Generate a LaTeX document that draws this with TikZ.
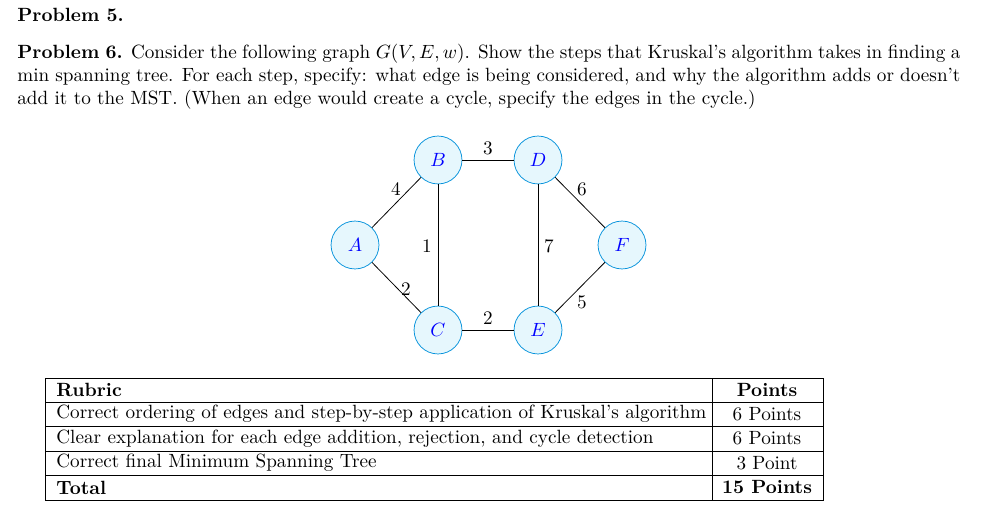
\documentclass[tikz,border=0pt]{standalone}
\usepackage{xcolor}
\begin{document}
\begin{tikzpicture}[x=0.5217pt,y=-0.5217pt,
  vtx/.style={circle,draw=cyan!80!blue,fill=cyan!10,minimum size=25pt,inner sep=0pt,text=blue},
  edge/.style={draw=black,line width=0.4pt},
  wl/.style={inner sep=1pt,font=\normalsize},
  cell/.style={anchor=west,inner sep=0pt},
  tl/.style={line width=0.4pt}]
\useasboundingbox (0,0) rectangle (991,511);
\node[anchor=west,inner sep=0pt,font=\bfseries] (p5) at (17,15) {Problem 5.};
\node[anchor=north west,inner sep=0pt,text width=492pt,align=justify] (p6) at (17,44)
 {\textbf{Problem 6.} Consider the following graph $G(V,E,w)$. Show the steps that Kruskal's algorithm takes in finding a min spanning tree. For each step, specify: what edge is being considered, and why the algorithm adds or doesn't add it to the MST. (When an edge would create a cycle, specify the edges in the cycle.)};
\node[vtx] (A) at (355,245) {$A$};
\node[vtx] (B) at (438,160) {$B$};
\node[vtx] (C) at (438,330) {$C$};
\node[vtx] (D) at (538,160) {$D$};
\node[vtx] (E) at (538,330) {$E$};
\node[vtx] (F) at (622,245) {$F$};
\draw[edge] (A) -- (B);
\draw[edge] (A) -- (C);
\draw[edge] (B) -- (C);
\draw[edge] (B) -- (D);
\draw[edge] (C) -- (E);
\draw[edge] (D) -- (E);
\draw[edge] (D) -- (F);
\draw[edge] (E) -- (F);
\node[wl] (w1) at (396,189) {4};
\node[wl] (w2) at (406,289) {2};
\node[wl] (w3) at (427,246) {1};
\node[wl] (w4) at (488,148) {3};
\node[wl] (w5) at (488,318) {2};
\node[wl] (w6) at (549,246) {7};
\node[wl] (w7) at (582,189) {6};
\node[wl] (w8) at (582,302) {5};
% table
\draw[tl] (45,378) rectangle (823,500);
\foreach \y in {402,426,451,475} \draw[tl] (45,\y) -- (823,\y);
\draw[tl] (712,378) -- (712,500);
\node[cell,font=\bfseries] (r0) at (56,390) {Rubric};
\node[font=\bfseries,inner sep=0pt] (p0) at (767,390) {Points};
\node[cell] (r1) at (56,414) {Correct ordering of edges and step-by-step application of Kruskal's algorithm};
\node[inner sep=0pt] (p1) at (767,414) {6 Points};
\node[cell] (r2) at (56,438.5) {Clear explanation for each edge addition, rejection, and cycle detection};
\node[inner sep=0pt] (p2) at (767,438.5) {6 Points};
\node[cell] (r3) at (56,463) {Correct final Minimum Spanning Tree};
\node[inner sep=0pt] (p3) at (767,463) {3 Point};
\node[cell,font=\bfseries] (r4) at (56,487.5) {Total};
\node[font=\bfseries,inner sep=0pt] (p4) at (767,487.5) {15 Points};
\end{tikzpicture}
\end{document}
